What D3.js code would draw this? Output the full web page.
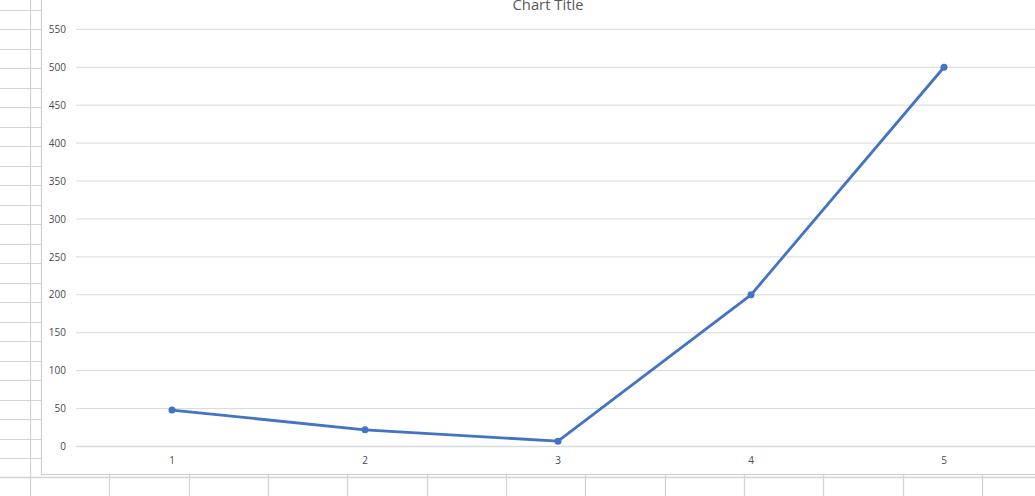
<!DOCTYPE html>
<html>
<head>
<meta charset="utf-8">
<script src="https://cdn.jsdelivr.net/npm/d3@7"></script>
<style>
html,body{margin:0;padding:0;background:#fff;overflow:hidden;}
svg{display:block;}
</style>
</head>
<body>
<svg id="c" width="1035" height="496"></svg>
<script>
const categories = ["1", "2", "3", "4", "5"];
const seriesValues = [48, 22, 7, 200, 500];
const yTicks = [0, 50, 100, 150, 200, 250, 300, 350, 400, 450, 500, 550];
const titleText = "Chart Title";

const svg = d3.select("#c");
const W = 1035, H = 496;
const gridCol = "#d4d4d4";

// spreadsheet cell grid (background)
const cellRows = d3.range(0, 25).map(k => 9.5 + k * 19.51);
const cellCols = d3.range(0, 13).map(k => 30 + k * 79.33);
const bg = svg.append("g");
bg.selectAll("line.r").data(cellRows.slice(0, -1)).join("line")
  .attr("x1", 0).attr("x2", 41.5)
  .attr("y1", d => Math.round(d) + 0.5).attr("y2", d => Math.round(d) + 0.5)
  .attr("stroke", gridCol).attr("stroke-width", 1);
bg.append("line").attr("x1", 0).attr("x2", W)
  .attr("y1", 477.5).attr("y2", 477.5).attr("stroke", gridCol).attr("stroke-width", 1.3);
bg.append("line").attr("x1", 30.5).attr("x2", 30.5)
  .attr("y1", 0).attr("y2", H).attr("stroke", gridCol).attr("stroke-width", 1.3);
bg.selectAll("line.c").data(cellCols.slice(1)).join("line")
  .attr("x1", d => Math.round(d) + 0.5).attr("x2", d => Math.round(d) + 0.5)
  .attr("y1", 475).attr("y2", H)
  .attr("stroke", gridCol).attr("stroke-width", 1.3);

// chart area
svg.append("rect").attr("x", 41.5).attr("y", -20).attr("width", 1100).attr("height", 494.5)
  .attr("fill", "#fff").attr("stroke", "#d0d0d0").attr("stroke-width", 1.2);

// title (cut at the top edge, as in the reference screenshot)
svg.append("text").attr("x", 548).attr("y", 10).attr("text-anchor", "middle")
  .attr("font-family", "Open Sans, sans-serif").attr("font-size", 14.8)
  .attr("fill", "#595959").text(titleText);

// scales
const x = d3.scaleBand().domain(categories).range([75.5, 1040.5]);
const y = d3.scaleLinear().domain([0, 550]).range([446.5, 29.3]);

// gridlines
const grid = svg.append("g");
grid.selectAll("line").data(yTicks).join("line")
  .attr("x1", 76).attr("x2", W)
  .attr("y1", d => y(d)).attr("y2", d => y(d))
  .attr("stroke", "#d9d9d9").attr("stroke-width", d => d === 0 ? 1.4 : 1);

// y axis labels
const yAxis = d3.axisLeft(y).tickValues(yTicks).tickSize(0).tickPadding(0);
const yg = svg.append("g").attr("transform", "translate(66,0)").call(yAxis);
yg.select(".domain").remove();
yg.selectAll("text").attr("font-family", "Open Sans, sans-serif").attr("font-size", 10)
  .attr("fill", "#4a4a4a");

// x axis labels
const xAxis = d3.axisBottom(x).tickSize(0).tickPadding(0);
const xg = svg.append("g").attr("transform", "translate(0,456.5)").call(xAxis);
xg.select(".domain").remove();
xg.selectAll("text").attr("font-family", "Open Sans, sans-serif").attr("font-size", 10)
  .attr("fill", "#4a4a4a");

// line
const cx = d => x(d) + x.bandwidth() / 2;
const line = d3.line().x((d, i) => cx(categories[i])).y(d => y(d));
svg.append("path").datum(seriesValues).attr("d", line)
  .attr("fill", "none").attr("stroke", "#4472C4").attr("stroke-width", 2.8)
  .attr("stroke-linejoin", "round");
svg.selectAll("circle.pt").data(seriesValues).join("circle")
  .attr("cx", (d, i) => cx(categories[i])).attr("cy", d => y(d)).attr("r", 3.5)
  .attr("fill", "#4472C4");
</script>
</body>
</html>
